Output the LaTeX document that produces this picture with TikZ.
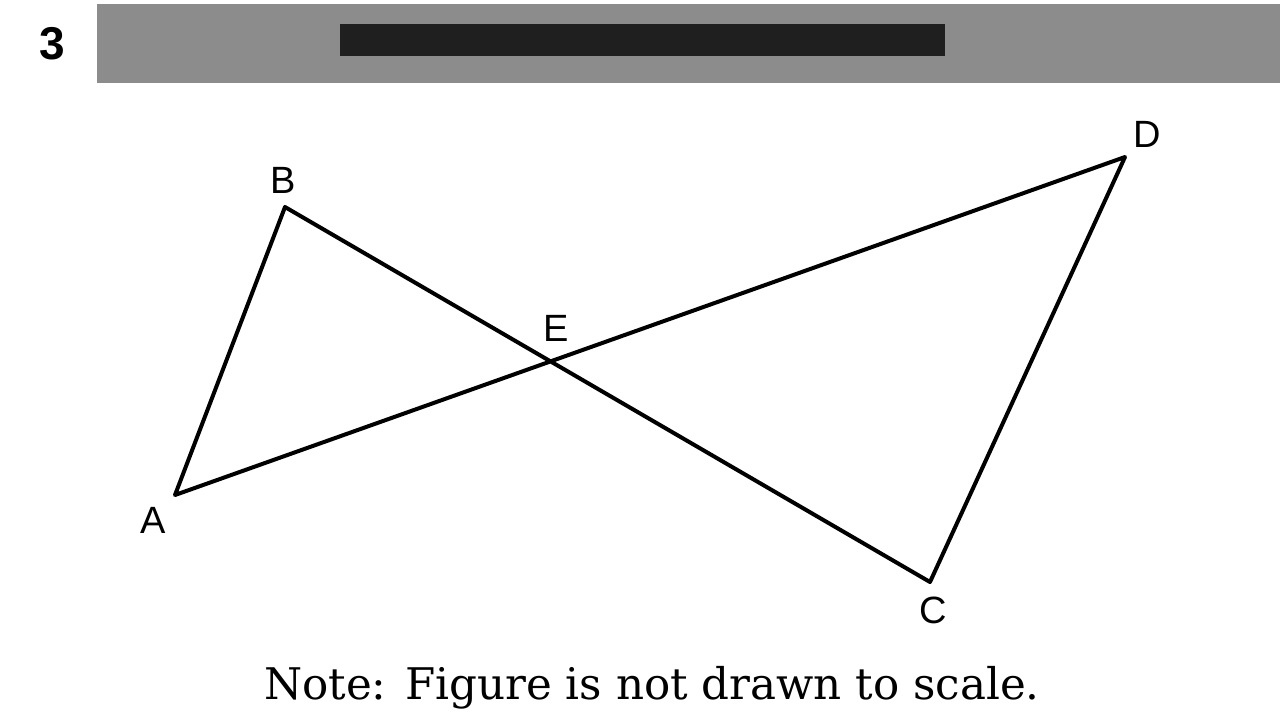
\documentclass[tikz,border=0pt]{standalone}
\usepackage{fontspec}
\setmainfont{DejaVu Serif}
\setsansfont{Liberation Sans}
\begin{document}
\begin{tikzpicture}[x=0.5pt,y=-0.5pt,
  seg/.style={line width=2pt,line join=round,line cap=round},
  vlab/.style={font=\sffamily\fontsize{19}{19}\selectfont,inner sep=0pt}]
\useasboundingbox (0,0) rectangle (1280,720);
\fill[white] (0,0) rectangle (1280,720);
% header bar
\fill[black!45] (97,4) rectangle (1280,83);
\fill[black!88] (340,24) rectangle (945,56);
\node[font=\sffamily\bfseries\fontsize{23}{23}\selectfont,inner sep=0pt] (num) at (52,44) {3};
% points
\coordinate (A) at (175,495);
\coordinate (B) at (285,207);
\coordinate (C) at (930,582);
\coordinate (D) at (1125,157);
\coordinate (E) at (intersection of A--D and B--C);
\draw[seg] (A) -- (B) -- (C) -- (D) -- cycle;
\node[vlab] (lA) at (153,520) {A};
\node[vlab] (lB) at (283,180) {B};
\node[vlab] (lC) at (933,610) {C};
\node[vlab] (lD) at (1147,134) {D};
\node[vlab] (lE) at (556,328) {E};
\node[font=\fontsize{21.8}{22}\selectfont,inner sep=0pt] (note) at (652,688) {Note: Figure is not drawn to scale.};
\end{tikzpicture}
\end{document}
